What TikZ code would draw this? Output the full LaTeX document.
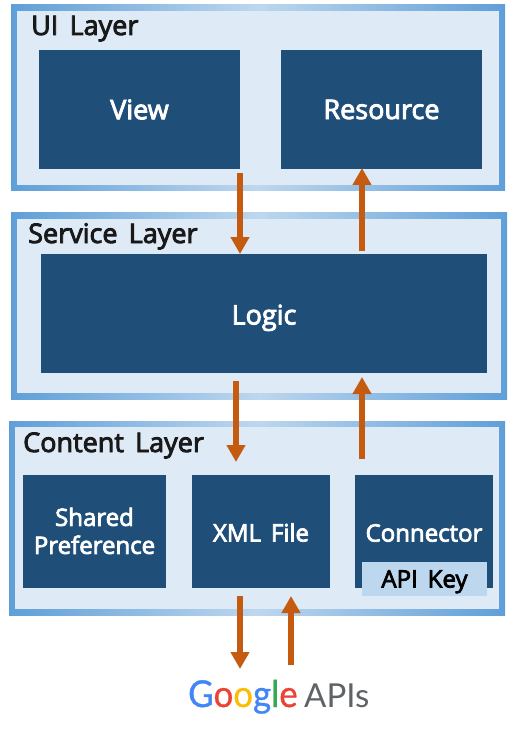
\documentclass[tikz,border=0pt]{standalone}
\usepackage{fontspec}
\setmainfont{Open Sans}[FakeBold=3.2,WordSpace=1.6]
\newfontfamily\gfont{Lato}[FakeStretch=0.94,FakeBold=0.8]
\newfontfamily\afont{Lato}
\usetikzlibrary{arrows.meta}
\definecolor{boxblue}{HTML}{1F4E79}
\definecolor{paneblue}{HTML}{DEEAF6}
\definecolor{edgedark}{HTML}{5F9FD8}
\definecolor{edgelight}{HTML}{BDD7EE}
\definecolor{flow}{HTML}{C55A11}
\definecolor{gblue}{HTML}{4285F4}
\definecolor{gred}{HTML}{EA4335}
\definecolor{gyellow}{HTML}{FBBC05}
\definecolor{ggreen}{HTML}{34A853}
\definecolor{ggrey}{HTML}{5F6368}
\tikzset{
  rectat/.style n args={4}{minimum width=#3-#1, minimum height=#4-#2, anchor=north west, at={(#1,#2)}, inner sep=0pt, outer sep=0pt},
  layeredge/.style={left color=edgedark, right color=edgedark, middle color=edgelight},
  layerpane/.style={fill=paneblue},
  compbox/.style={fill=boxblue, text=white, font=\fontsize{27}{28}\selectfont, align=center},
  smallbox/.style={fill=boxblue, text=white, font=\fontsize{24}{28}\selectfont, align=center},
  keybox/.style={fill=edgelight, text=black, font=\fontsize{24}{26}\selectfont, text height=17pt, text depth=0pt},
  layertitle/.style={anchor=base west, inner sep=0pt, text=black!90, font=\fontsize{27}{28}\selectfont},
  flowarrow/.style={draw=flow, line width=6pt, -{Triangle[width=18pt,length=17pt]}},
}
\begin{document}
\begin{tikzpicture}[x=1pt,y=-1pt]
\useasboundingbox (0,0) rectangle (507,743);
% layers
\node[layeredge, rectat={11}{5}{505}{191}] (uiedge) {};
\node[layerpane, rectat={17}{11}{499}{185}] (uipane) {};
\node[layeredge, rectat={11}{213}{507}{399}] (svcedge) {};
\node[layerpane, rectat={17}{219}{501}{393}] (svcpane) {};
\node[layeredge, rectat={9}{421}{505}{615}] (conedge) {};
\node[layerpane, rectat={15}{427}{499}{609}] (conpane) {};
% titles
\node[layertitle] (uititle) at (31,35) {UI Layer};
\node[layertitle] (svctitle) at (28,243) {Service Layer};
\node[layertitle] (contitle) at (23,452) {Content Layer};
% components
\node[compbox, rectat={39}{50}{240}{169}] (view) {View};
\node[compbox, rectat={281}{50}{482}{169}] (resource) {Resource};
\node[compbox, rectat={41}{254}{487}{373}, text height=22pt, text depth=0pt] (logic) {Logic};
\node[smallbox, rectat={23}{475}{166}{588}, text depth=1.5pt] (shared) {Shared\\Preference};
\node[smallbox, rectat={192}{475}{330}{588}, text height=20pt, text depth=0pt] (xml) {XML File};
\node[smallbox, rectat={355}{475}{493}{588}] (connector) {};
\node[smallbox, anchor=center, fill=none, inner sep=0pt] (conlabel) at (424,533) {Connector};
\node[keybox, rectat={362}{562}{487}{596}] (apikey) {API Key};
% google
\node[anchor=base west, inner sep=0pt, font=\gfont\fontsize{37}{40}\selectfont] (google) at (188,707) {\textcolor{gblue}{G}\textcolor{gred}{o}\textcolor{gyellow}{o}\textcolor{gblue}{g}\textcolor{ggreen}{l}\textcolor{gred}{e}};
\node[anchor=base west, inner sep=0pt, text=ggrey, font=\afont\fontsize{33}{40}\selectfont] (apis) at (304,707) {APIs};
% arrow ends
\coordinate (a1s) at (240,173); \coordinate (a1e) at (240,254);
\coordinate (a2s) at (362,251); \coordinate (a2e) at (362,168);
\coordinate (a3s) at (236,381); \coordinate (a3e) at (236,462);
\coordinate (a4s) at (362,459); \coordinate (a4e) at (362,377);
\coordinate (a5s) at (240,596); \coordinate (a5e) at (240,669);
\coordinate (a6s) at (291,665); \coordinate (a6e) at (291,596);
\draw[flowarrow] (a1s) -- (a1e);
\draw[flowarrow] (a2s) -- (a2e);
\draw[flowarrow] (a3s) -- (a3e);
\draw[flowarrow] (a4s) -- (a4e);
\draw[flowarrow] (a5s) -- (a5e);
\draw[flowarrow] (a6s) -- (a6e);
\end{tikzpicture}
\end{document}
